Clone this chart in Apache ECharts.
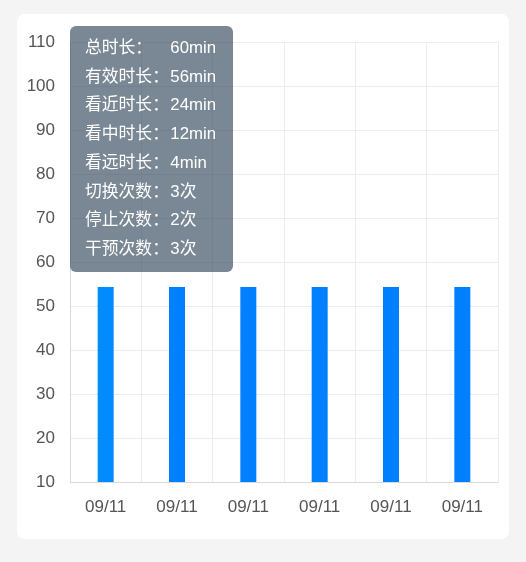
<!DOCTYPE html>
<html>
<head>
<meta charset="utf-8">
<script src="https://cdn.jsdelivr.net/npm/echarts@6/dist/echarts.min.js"></script>
<style>
html,body{margin:0;padding:0;background:#f4f4f4;width:526px;height:562px;overflow:hidden;}
#card{position:absolute;left:17px;top:14px;width:492px;height:525px;background:#fff;border-radius:8px;}
#chart{width:492px;height:525px;}
</style>
</head>
<body>
<div id="card"><div id="chart"></div></div>
<script>
const categories = ['09/11','09/11','09/11','09/11','09/11','09/11'];
const values = [54.3, 54.3, 54.3, 54.3, 54.3, 54.3];
const yTicks = {min: 10, max: 110, interval: 10};
const tipLabels = ['总时长：','有效时长：','看近时长：','看中时长：','看远时长：','切换次数：','停止次数：','干预次数：'];
const tipValues = ['60min','56min','24min','12min','4min','3次','2次','3次'];

const font = '"Liberation Sans","Noto Sans CJK SC",sans-serif';
const chart = echarts.init(document.getElementById('chart'));
chart.setOption({
  textStyle: {fontFamily: font},
  animation: false,
  grid: {left: 53, right: 11, top: 28, bottom: 57, containLabel: false},
  tooltip: {
    trigger: 'axis',
    triggerOn: 'none',
    alwaysShowContent: true,
    axisPointer: {type: 'none'},
    position: [53, 12],
    backgroundColor: 'rgba(50,70,90,0.65)',
    borderWidth: 0,
    padding: [8, 17, 8, 15],
    extraCssText: 'box-shadow:none;border-radius:6px;',
    formatter: function () {
      return tipLabels.map((l, i) =>
        '<div style="line-height:28.7px;font-size:16.8px;color:#fff;font-family:' + font.replace(/"/g, "'") + ';white-space:nowrap;">' +
        '<span style="display:inline-block;min-width:5.08em;">' + l + '</span>' + tipValues[i] + '</div>'
      ).join('');
    }
  },
  xAxis: {
    type: 'category',
    data: categories,
    axisLine: {lineStyle: {color: '#d9d9d9'}},
    axisTick: {show: false},
    axisLabel: {color: '#555', fontSize: 17, margin: 17},
    splitLine: {show: true, lineStyle: {color: '#ececec'}}
  },
  yAxis: {
    type: 'value',
    min: yTicks.min, max: yTicks.max, interval: yTicks.interval,
    axisLine: {show: true, lineStyle: {color: '#d9d9d9'}},
    axisTick: {show: false},
    axisLabel: {color: '#555', fontSize: 17, margin: 15},
    splitLine: {lineStyle: {color: '#ececec'}}
  },
  series: [{
    type: 'bar',
    data: values,
    barWidth: 16,
    itemStyle: {color: '#0080ff'}
  }]
});
chart.dispatchAction({type: 'showTip', seriesIndex: 0, dataIndex: 0});
</script>
</body>
</html>
